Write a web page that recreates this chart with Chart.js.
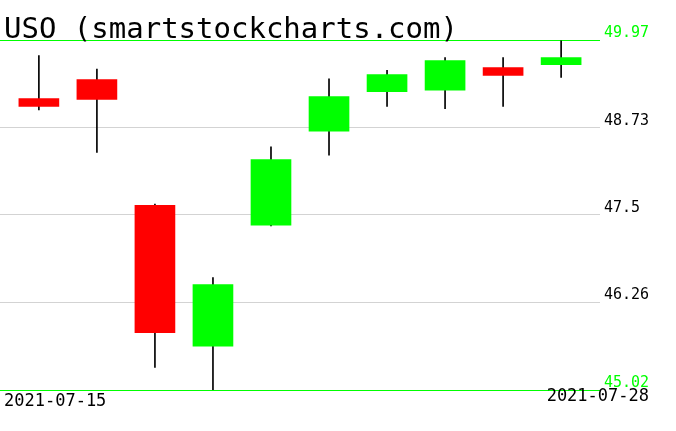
<!DOCTYPE html>
<html>
<head>
<meta charset="utf-8">
<script src="https://cdn.jsdelivr.net/npm/chart.js@4"></script>
<style>
  html, body { margin: 0; padding: 0; background: #fff; }
  #wrap { width: 676px; height: 431px; position: relative; }
</style>
</head>
<body>
<div id="wrap"><canvas id="myChart"></canvas></div>
<script>
// daily candles, USO
var dates = ['2021-07-15', '2021-07-16', '2021-07-19', '2021-07-20', '2021-07-21',
             '2021-07-22', '2021-07-23', '2021-07-26', '2021-07-27', '2021-07-28'];
var opens  = [49.14, 49.41, 47.63, 45.64, 47.35, 48.68, 49.24, 49.26, 49.58, 49.62];
var closes = [49.03, 49.13, 45.83, 46.51, 48.28, 49.17, 49.48, 49.68, 49.47, 49.72];
var highs  = [49.75, 49.56, 47.65, 46.61, 48.46, 49.42, 49.54, 49.72, 49.72, 49.96];
var lows   = [48.98, 48.38, 45.34, 45.02, 47.34, 48.34, 49.03, 49.00, 49.03, 49.44];

var tickValues = [45.02, 46.26, 47.5, 48.73, 49.97];
var tickLabels = ['45.02', '46.26', '47.5', '48.73', '49.97'];

var title = 'USO (smartstockcharts.com)';

var upColor = '#00ff00';
var downColor = '#ff0000';

var bodies = dates.map(function (d, i) { return { x: i, y: [opens[i], closes[i]] }; });
var wicks = dates.map(function (d, i) { return { x: i, y: [lows[i], highs[i]] }; });
var bodyColors = dates.map(function (d, i) { return closes[i] >= opens[i] ? upColor : downColor; });

var textPlugin = {
    id: 'texts',
    afterDraw: function (chart) {
        var ctx = chart.ctx;
        var area = chart.chartArea;
        ctx.save();
        ctx.fillStyle = '#000';
        ctx.textBaseline = 'alphabetic';
        ctx.font = '29px "DejaVu Sans Mono"';
        ctx.textAlign = 'left';
        ctx.fillText(title, 4, area.top - 2);

        ctx.font = '17px "DejaVu Sans Mono"';
        ctx.fillText(dates[0], 4, area.bottom + 16);
        ctx.textAlign = 'right';
        ctx.fillText(dates[dates.length - 1], chart.width - 27, area.bottom + 11);
        ctx.restore();
    }
};

var ctx = document.getElementById('myChart').getContext('2d');
var myChart = new Chart(ctx, {
    type: 'bar',
    data: {
        datasets: [{
            label: 'body',
            data: bodies,
            backgroundColor: bodyColors,
            borderWidth: 0,
            barThickness: 40,
            grouped: false,
            order: 1
        }, {
            label: 'wick',
            data: wicks,
            backgroundColor: '#000',
            borderWidth: 0,
            barThickness: 1,
            grouped: false,
            order: 2
        }]
    },
    options: {
        responsive: true,
        maintainAspectRatio: false,
        animation: false,
        layout: {
            padding: { top: 40, bottom: 41, left: 0, right: 0 }
        },
        plugins: {
            legend: { display: false },
            tooltip: { enabled: false }
        },
        scales: {
            x: {
                type: 'linear',
                display: false,
                offset: false,
                min: -0.67,
                max: 9.67
            },
            y: {
                position: 'right',
                min: tickValues[0],
                max: tickValues[tickValues.length - 1],
                afterBuildTicks: function (scale) {
                    scale.ticks = tickValues.map(function (v) { return { value: v }; });
                },
                afterFit: function (scale) {
                    scale.width = 76;
                },
                border: { display: false },
                grid: {
                    drawTicks: false,
                    lineWidth: 1,
                    color: function (c) {
                        return (c.index === 0 || c.index === tickValues.length - 1) ? upColor : '#d3d3d3';
                    }
                },
                ticks: {
                    padding: 4,
                    labelOffset: -7,
                    font: { family: '"DejaVu Sans Mono"', size: 15 },
                    color: function (c) {
                        return (c.index === 0 || c.index === tickValues.length - 1) ? upColor : '#000';
                    },
                    callback: function (value, index) {
                        return tickLabels[index];
                    }
                }
            }
        }
    },
    plugins: [textPlugin]
});
</script>
</body>
</html>
